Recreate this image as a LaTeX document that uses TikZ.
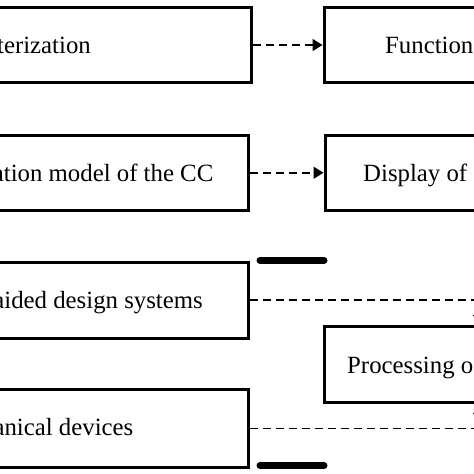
\documentclass[tikz,border=0pt]{standalone}
\usepackage{fontspec}
\setmainfont{Liberation Serif}
\usetikzlibrary{arrows.meta}
\begin{document}
\begin{tikzpicture}[x=1pt,y=-1pt,
  box/.style={draw, line width=3pt, rectangle, inner sep=0pt},
  lbl/.style={inner sep=0pt, font=\fontsize{24.8}{30}\selectfont},
  dline/.style={line width=1.6pt, dash pattern=on 8pt off 5pt},
  tip/.style={-{Triangle[length=10pt,width=12pt]}},
  barline/.style={line width=7pt, line cap=round}]
\useasboundingbox (0,0) rectangle (474,474);
\clip (0,0) rectangle (474,474);
% boxes
\node[box, minimum width=281pt, minimum height=75pt] (a) at (110.5,45) {};
\node[box, minimum width=316pt, minimum height=75pt] (b) at (482,45) {};
\node[box, minimum width=278pt, minimum height=75.5pt] (c) at (109,172.75) {};
\node[box, minimum width=315pt, minimum height=75.5pt] (d) at (482.5,172.75) {};
\node[box, minimum width=278pt, minimum height=75.5pt] (e) at (109,300.25) {};
\node[box, minimum width=278pt, minimum height=77.6pt] (f) at (109,428.5) {};
\node[box, minimum width=316pt, minimum height=76.4pt] (g) at (482,364.5) {};
% texts
\node[lbl, anchor=base east] (ta) at (91,53) {terization};
\node[lbl, anchor=base west] (tb) at (385,53) {Function};
\node[lbl, anchor=base east] (tc) at (213.5,181.5) {ation model of the CC};
\node[lbl, anchor=base west] (td) at (363,181.5) {Display of};
\node[lbl, anchor=base east] (te) at (203,308) {aided design systems};
\node[lbl, anchor=base east] (tf) at (133.5,435.5) {anical devices};
\node[lbl, anchor=base west] (tg) at (347,373) {Processing o};
% connectors
\draw[dline,tip] (a.east) -- (b.west);
\draw[dline,tip] (c.east) -- (d.west);
\coordinate (gt) at (479,324.8);
\coordinate (gb) at (479,404.2);
\draw[dline,tip] (e.east) -| (gt);
\draw[dline,tip] (f.east) -| (gb);
% thick bars
\draw[barline] (260,260.5) -- (324,260.5);
\draw[barline] (260,465.5) -- (324,465.5);
\end{tikzpicture}
\end{document}
